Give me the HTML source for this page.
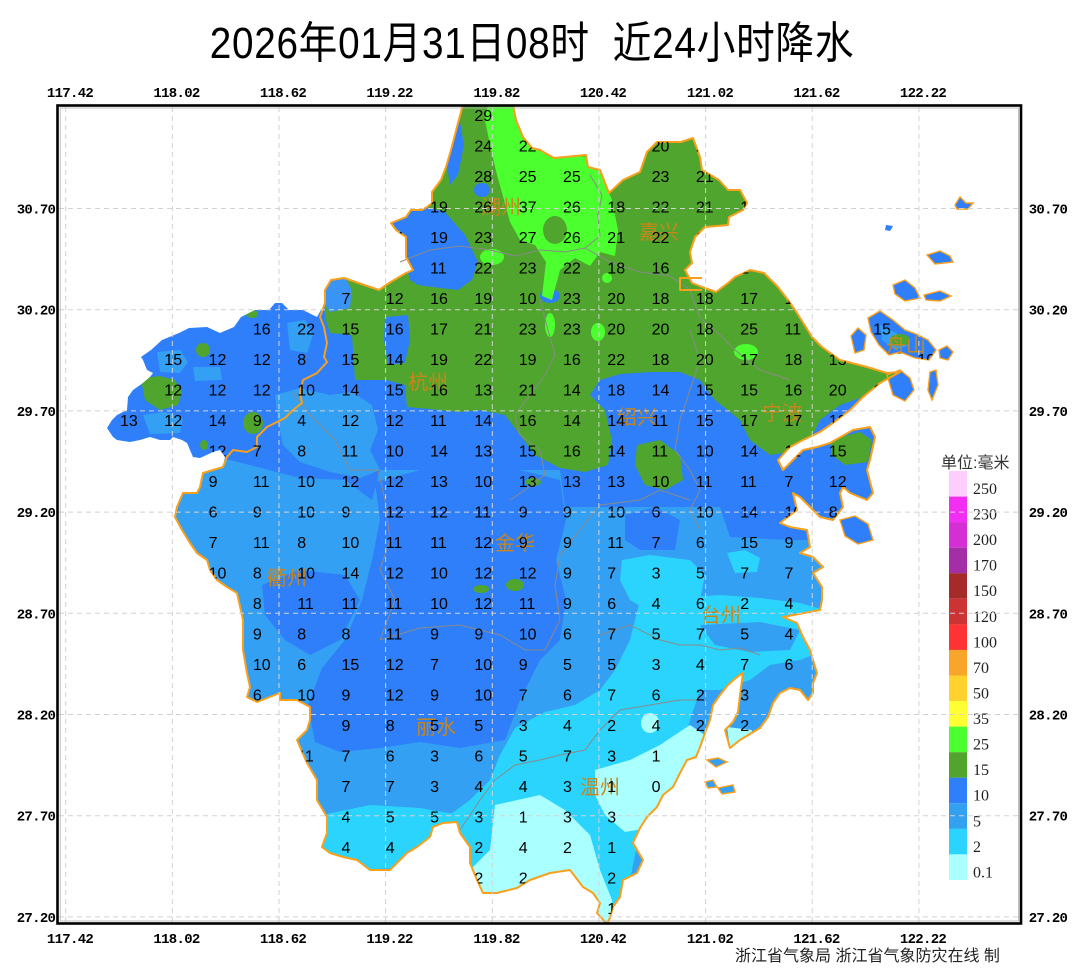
<!DOCTYPE html>
<html><head><meta charset="utf-8"><style>
html,body{margin:0;padding:0;background:#fff;}
svg{display:block;}
.n{font-family:"Liberation Sans",sans-serif;font-size:16px;fill:#000;}
.ax{font-family:"Liberation Mono",monospace;font-size:14px;letter-spacing:-0.7px;fill:#000;font-weight:bold;}
.city{font-family:"Liberation Sans","Noto Sans CJK SC",sans-serif;font-size:20px;fill:#c8861a;}
.lg{font-family:"Liberation Serif",serif;font-size:16px;fill:#222;}
</style></head><body>
<svg width="1080" height="971" viewBox="0 0 1080 971" xmlns="http://www.w3.org/2000/svg">
<defs>
<clipPath id="frame"><rect x="58" y="106" width="963" height="817"/></clipPath>
<clipPath id="land">
<polygon points="325,303 325,290 331,280 344,278 379,290 389,283 406,273 413,270 406,257 406,237 396,230 391,223 406,217 411,210 422,210 427,207 432,203 432,192 441,180 446,167 451,150 458,123 461,112 463,104 513,104 516,120 523,137 532,148 540,150 554,158 586,155 588,167 600,170 609,193 623,180 640,172 647,152 657,142 681,142 693,138 700,157 702,170 719,180 728,190 740,190 747,203 743,210 729,217 728,225 705,227 695,237 690,252 692,263 685,270 692,283 702,287 716,292 728,283 735,277 750,270 764,273 778,287 788,300 797,313 812,337 822,347 840,360 867,367 887,373 900,372 880,383 863,397 850,410 833,423 820,432 803,440 790,447 778,460 783,470 793,460 803,450 817,447 830,443 853,430 870,427 875,437 870,460 867,470 873,493 867,500 850,493 843,487 840,493 843,507 833,520 820,517 810,507 800,497 793,493 797,510 780,523 790,527 807,530 810,547 800,553 813,557 823,567 813,573 822,587 822,600 820,610 783,617 797,623 803,637 810,650 813,660 817,673 813,683 813,693 808,700 800,690 790,688 780,693 773,703 768,717 760,728 750,734 740,740 730,748 725,730 733,722 738,712 740,695 743,673 737,677 728,685 720,695 713,705 710,720 705,733 700,747 696,757 687,760 680,773 673,787 663,795 657,807 647,817 640,828 633,843 643,860 637,873 623,880 620,897 613,907 610,918 607,924 597,913 600,903 593,893 583,887 570,870 550,873 530,880 517,888 497,893 483,893 477,880 470,863 470,847 460,833 457,822 443,823 433,827 430,837 417,847 407,853 390,870 370,870 357,860 343,857 330,853 322,847 327,833 327,817 317,800 317,780 307,763 300,747 297,740 307,730 310,720 310,707 297,700 280,700 280,693 257,702 247,697 250,687 247,673 243,650 243,620 237,593 227,587 217,580 210,570 207,560 197,553 190,543 182,530 175,517 177,507 180,500 183,493 197,493 200,487 203,473 213,470 223,467 227,457 233,450 247,452 257,447 257,437 267,427 285,418 293,410 302,403 300,393 303,380 317,373 327,362 324,357 327,343 324,327 320,317"/>
<polygon points="223,467 225,457 220,450 213,452 200,458 193,457 187,443 182,440 173,437 170,440 160,440 150,437 140,440 130,442 117,440 113,437 107,428 112,420 117,415 127,410 128,397 133,390 143,383 150,377 153,373 147,370 143,360 141,357 151,350 162,340 179,333 189,328 207,327 220,333 234,327 241,317 255,310 269,310 275,303 282,303 289,310 303,310 317,317 325,303 320,317 324,327 327,343 324,357 327,362 317,373 303,380 300,393 302,403 293,410 285,418 267,427 257,437 257,447 247,452 233,450 227,457"/>
<polygon points="893,285 905,280 915,288 920,298 905,301 895,294"/>
<polygon points="927,255 940,251 950,256 953,262 935,264"/>
<polygon points="924,295 940,291 951,296 940,301 926,300"/>
<polygon points="955,205 960,197 966,203 973,203 968,209 957,209"/>
<polygon points="868,318 880,311 893,320 905,330 916,334 928,340 936,350 929,360 915,358 900,352 889,355 879,345 871,332"/>
<polygon points="851,336 858,328 866,335 864,350 855,353"/>
<polygon points="939,350 947,346 953,352 948,360 940,358"/>
<polygon points="887,375 900,370 910,378 914,390 905,401 893,395"/>
<polygon points="930,372 936,370 938,385 932,400 928,390"/>
<polygon points="840,520 855,516 868,524 873,540 858,544 845,536"/>
<polygon points="707,760 718,758 727,762 716,767"/>
<polygon points="705,782 713,780 717,787 708,788"/>
<polygon points="718,788 733,785 735,792 722,794"/>
<polygon points="886,225 893,226 890,231 885,230"/>
</clipPath>
</defs>

<!-- Title -->
<g transform="translate(532,0) scale(0.88,1) translate(-532,0)">
<text x="532" y="58" text-anchor="middle" font-family="Liberation Sans, Noto Sans CJK SC, sans-serif" font-size="44" letter-spacing="0.8" fill="#000">2026年01月31日08时&#160;&#160;近24小时降水</text>
</g>

<g clip-path="url(#frame)">
<g clip-path="url(#land)">
<rect x="0" y="0" width="1080" height="971" fill="#2e7ff9"/>
<!-- medium blue south -->
<polygon fill="#34a0f3" points="160,460 230,460 300,478 345,480 372,500 380,470 560,470 565,507 720,507 730,537 790,540 830,540 840,560 900,560 900,950 100,950 100,460"/>
<!-- dark patches -->
<polygon fill="#2e7ff9" points="375,482 420,470 470,468 520,470 560,480 566,520 556,560 566,600 560,640 540,660 520,700 505,740 460,748 420,742 380,748 340,752 315,742 308,705 322,668 345,640 362,600 372,560 380,520"/>
<polygon fill="#2e7ff9" points="262,585 300,570 345,575 360,600 340,640 310,655 285,640 265,615"/>
<polygon fill="#2e7ff9" points="625,515 655,507 680,520 675,550 640,550 625,540"/>
<!-- medium blue patches -->
<polygon fill="#34a0f3" points="275,395 300,388 330,395 352,392 372,405 378,430 370,450 380,470 360,478 330,472 300,462 283,445 278,420"/>
<polygon fill="#34a0f3" points="287,323 305,320 313,335 307,353 290,350"/>
<polygon fill="#34a0f3" points="157,352 180,350 188,362 180,373 160,372"/>
<polygon fill="#34a0f3" points="193,367 220,367 222,380 195,381"/>
<polygon fill="#34a0f3" points="143,415 165,412 183,418 180,433 150,434"/>
<polygon fill="#34a0f3" points="880,325 900,335 910,345 895,350 882,340"/>
<!-- cyan -->
<polygon fill="#2ad4fc" points="640,600 680,598 720,595 760,598 800,603 825,610 825,650 800,660 770,665 750,680 720,690 700,690 690,720 680,760 660,800 640,830 620,930 480,930 470,860 460,830 440,822 470,800 490,780 500,755 515,728 545,712 575,705 600,690 615,670 630,640"/>
<polygon fill="#2ad4fc" points="622,560 650,555 690,560 705,575 700,600 680,615 650,612 630,600 620,580"/>
<polygon fill="#2ad4fc" points="727,553 745,550 760,558 757,572 735,573"/>
<polygon fill="#2ad4fc" points="322,815 370,805 420,808 460,815 470,840 450,860 400,868 350,870 322,850"/>
<!-- medium patch on cyan -->
<polygon fill="#34a0f3" points="700,625 760,622 800,630 790,650 750,652 715,645"/>
<!-- pale -->
<polygon fill="#aaffff" points="495,805 540,795 565,810 590,835 600,870 612,900 614,930 470,930 470,870 490,850"/>
<polygon fill="#aaffff" points="595,770 630,760 660,745 690,725 705,735 695,760 680,785 662,805 648,828 625,832 605,815 595,795"/>
<polygon fill="#aaffff" points="727,727 752,730 750,745 730,748"/>
<ellipse fill="#aaffff" cx="650" cy="723" rx="9" ry="10"/>
<!-- green -->
<polygon fill="#4fa52e" points="320,100 760,100 850,280 848,350 870,362 895,375 880,388 860,398 840,405 820,420 810,440 790,452 770,455 750,440 740,420 715,400 700,380 680,372 650,372 620,374 600,380 590,395 605,410 612,440 608,465 585,472 560,468 535,455 520,435 505,415 480,410 460,412 440,410 407,407 405,385 387,380 355,380 352,335 330,333 325,318"/>
<polygon fill="#4fa52e" points="637,445 660,440 680,455 683,480 665,490 645,485 635,465"/>
<polygon fill="#4fa52e" points="830,440 860,432 872,440 868,462 845,465 832,455"/>
<polygon fill="#4fa52e" points="143,378 160,376 175,380 182,392 178,405 160,410 145,400 142,385"/>
<ellipse fill="#4fa52e" cx="203" cy="350" rx="7" ry="7"/>
<ellipse fill="#4fa52e" cx="253" cy="423" rx="10" ry="11"/>
<ellipse fill="#4fa52e" cx="252" cy="314" rx="6" ry="4"/>
<ellipse fill="#4fa52e" cx="204" cy="445" rx="4" ry="5"/>
<ellipse fill="#4fa52e" cx="900" cy="340" rx="10" ry="6"/>
<ellipse fill="#4fa52e" cx="533" cy="482" rx="8" ry="4"/>
<ellipse fill="#4fa52e" cx="481" cy="589" rx="8" ry="4"/>
<ellipse fill="#4fa52e" cx="515" cy="585" rx="9" ry="6"/>
<!-- blue over green -->
<polygon fill="#3a94f5" points="320,272 345,278 352,290 350,308 330,312 322,300"/>
<polygon fill="#2e7ff9" points="392,212 420,205 445,212 465,235 478,262 472,280 458,290 440,288 418,285 410,280 405,262 395,240 390,222"/>
<polygon fill="#2e7ff9" points="453,130 460,122 464,145 458,175 450,185 447,165"/>
<polygon fill="#2e7ff9" points="385,317 408,315 410,340 405,363 388,365 384,340"/>
<ellipse fill="#2e7ff9" cx="482" cy="190" rx="8" ry="7"/>
<ellipse fill="#2e7ff9" cx="550" cy="296" rx="10" ry="7"/>
<!-- bright green -->
<polygon fill="#4cff2e" points="488,104 516,104 524,135 545,152 585,157 600,172 612,200 618,230 615,256 600,252 590,266 575,258 560,270 552,300 542,296 546,262 535,245 520,240 510,222 504,200 497,175 490,145 485,120"/>
<ellipse fill="#4fa52e" cx="555" cy="230" rx="12" ry="14"/>
<ellipse fill="#4cff2e" cx="550" cy="325" rx="5" ry="12"/>
<ellipse fill="#4cff2e" cx="598" cy="332" rx="7" ry="9"/>
<ellipse fill="#4cff2e" cx="746" cy="352" rx="12" ry="8"/>
<ellipse fill="#4cff2e" cx="607" cy="278" rx="5" ry="5"/>
<ellipse fill="#4cff2e" cx="492" cy="257" rx="12" ry="8"/>
</g>

<!-- internal gray boundaries -->
<g fill="none" stroke="#8a8a8a" stroke-width="1">
<polyline points="400,262 430,250 460,246 490,250 515,256 540,250 565,252 585,248 600,236 598,215 602,195 590,175"/>
<polyline points="585,248 610,262 640,272 670,276 690,290 700,318 720,335 735,350 760,370 790,380"/>
<polyline points="540,300 548,330 555,355 545,375 530,395 515,415 520,435 540,450 545,475 525,490 510,500"/>
<polyline points="690,330 700,360 690,390 680,420 675,450 690,470 700,490 690,510 700,530"/>
<polyline points="292,392 310,415 335,440 350,470 378,470 385,500 390,540 380,570 395,600 380,640"/>
<polyline points="380,640 420,628 460,625 500,635 525,650 545,650 560,620 555,585 560,555 580,530 600,505 640,500 660,490 690,500"/>
<polyline points="460,830 480,800 495,780 515,765 540,760 560,755 585,750 600,730 620,710 650,705 680,700 705,700"/>
<polyline points="600,635 630,625 660,640 680,645 700,645 720,650 740,648 760,655"/>
</g>

<!-- orange province boundary -->
<g fill="none" stroke="#f8a01c" stroke-width="2" stroke-linejoin="round">
<polygon points="325,303 325,290 331,280 344,278 379,290 389,283 406,273 413,270 406,257 406,237 396,230 391,223 406,217 411,210 422,210 427,207 432,203 432,192 441,180 446,167 451,150 458,123 461,112 463,104 513,104 516,120 523,137 532,148 540,150 554,158 586,155 588,167 600,170 609,193 623,180 640,172 647,152 657,142 681,142 693,138 700,157 702,170 719,180 728,190 740,190 747,203 743,210 729,217 728,225 705,227 695,237 690,252 692,263 685,270 692,283 702,287 716,292 728,283 735,277 750,270 764,273 778,287 788,300 797,313 812,337 822,347 840,360 867,367 887,373 900,372 880,383 863,397 850,410 833,423 820,432 803,440 790,447 778,460 783,470 793,460 803,450 817,447 830,443 853,430 870,427 875,437 870,460 867,470 873,493 867,500 850,493 843,487 840,493 843,507 833,520 820,517 810,507 800,497 793,493 797,510 780,523 790,527 807,530 810,547 800,553 813,557 823,567 813,573 822,587 822,600 820,610 783,617 797,623 803,637 810,650 813,660 817,673 813,683 813,693 808,700 800,690 790,688 780,693 773,703 768,717 760,728 750,734 740,740 730,748 725,730 733,722 738,712 740,695 743,673 737,677 728,685 720,695 713,705 710,720 705,733 700,747 696,757 687,760 680,773 673,787 663,795 657,807 647,817 640,828 633,843 643,860 637,873 623,880 620,897 613,907 610,918 607,924 597,913 600,903 593,893 583,887 570,870 550,873 530,880 517,888 497,893 483,893 477,880 470,863 470,847 460,833 457,822 443,823 433,827 430,837 417,847 407,853 390,870 370,870 357,860 343,857 330,853 322,847 327,833 327,817 317,800 317,780 307,763 300,747 297,740 307,730 310,720 310,707 297,700 280,700 280,693 257,702 247,697 250,687 247,673 243,650 243,620 237,593 227,587 217,580 210,570 207,560 197,553 190,543 182,530 175,517 177,507 180,500 183,493 197,493 200,487 203,473 213,470 223,467 227,457 233,450 247,452 257,447 257,437 267,427 285,418 293,410 302,403 300,393 303,380 317,373 327,362 324,357 327,343 324,327 320,317"/>
<polyline points="702,278 680,278 680,290 702,290"/>
</g>
<g fill="none" stroke="#f8a01c" stroke-width="1.4">
<polygon points="893,285 905,280 915,288 920,298 905,301 895,294"/>
<polygon points="927,255 940,251 950,256 953,262 935,264"/>
<polygon points="924,295 940,291 951,296 940,301 926,300"/>
<polygon points="955,205 960,197 966,203 973,203 968,209 957,209"/>
<polygon points="868,318 880,311 893,320 905,330 916,334 928,340 936,350 929,360 915,358 900,352 889,355 879,345 871,332"/>
<polygon points="851,336 858,328 866,335 864,350 855,353"/>
<polygon points="939,350 947,346 953,352 948,360 940,358"/>
<polygon points="887,375 900,370 910,378 914,390 905,401 893,395"/>
<polygon points="930,372 936,370 938,385 932,400 928,390"/>
<polygon points="840,520 855,516 868,524 873,540 858,544 845,536"/>
<polygon points="707,760 718,758 727,762 716,767"/>
<polygon points="705,782 713,780 717,787 708,788"/>
<polygon points="718,788 733,785 735,792 722,794"/>
</g>

<!-- city labels -->
<g class="city" text-anchor="middle">
<text x="501" y="214">湖州</text>
<text x="659" y="239">嘉兴</text>
<text x="428" y="389">杭州</text>
<text x="637" y="424">绍兴</text>
<text x="782" y="420">宁波</text>
<text x="906" y="352">舟山</text>
<text x="287" y="585">衢州</text>
<text x="515" y="550">金华</text>
<text x="721" y="622">台州</text>
<text x="436" y="734">丽水</text>
<text x="600" y="794">温州</text>
</g>

<!-- station values -->
<g class="n" clip-path="url(#land)">
<text y="120.8"><tspan x="474.4">29</tspan></text>
<text y="151.3"><tspan x="474.4">24</tspan><tspan x="518.7">22</tspan><tspan x="651.6">20</tspan><tspan x="695.9">22</tspan></text>
<text y="181.8"><tspan x="474.4">28</tspan><tspan x="518.7">25</tspan><tspan x="563">25</tspan><tspan x="651.6">23</tspan><tspan x="695.9">21</tspan></text>
<text y="212.3"><tspan x="430.1">19</tspan><tspan x="474.4">26</tspan><tspan x="518.7">37</tspan><tspan x="563">26</tspan><tspan x="607.3">18</tspan><tspan x="651.6">22</tspan><tspan x="695.9">21</tspan><tspan x="740.2">1</tspan></text>
<text y="242.8"><tspan x="385.8">14</tspan><tspan x="430.1">19</tspan><tspan x="474.4">23</tspan><tspan x="518.7">27</tspan><tspan x="563">26</tspan><tspan x="607.3">21</tspan><tspan x="651.6">22</tspan><tspan x="695.9">17</tspan></text>
<text y="273.3"><tspan x="430.1">11</tspan><tspan x="474.4">22</tspan><tspan x="518.7">23</tspan><tspan x="563">22</tspan><tspan x="607.3">18</tspan><tspan x="651.6">16</tspan><tspan x="740.2">2</tspan></text>
<text y="303.8"><tspan x="341.5">7</tspan><tspan x="385.8">12</tspan><tspan x="430.1">16</tspan><tspan x="474.4">19</tspan><tspan x="518.7">10</tspan><tspan x="563">23</tspan><tspan x="607.3">20</tspan><tspan x="651.6">18</tspan><tspan x="695.9">18</tspan><tspan x="740.2">17</tspan><tspan x="784.5">1</tspan></text>
<text y="334.3"><tspan x="252.9">16</tspan><tspan x="297.2">22</tspan><tspan x="341.5">15</tspan><tspan x="385.8">16</tspan><tspan x="430.1">17</tspan><tspan x="474.4">21</tspan><tspan x="518.7">23</tspan><tspan x="563">23</tspan><tspan x="607.3">20</tspan><tspan x="651.6">20</tspan><tspan x="695.9">18</tspan><tspan x="740.2">25</tspan><tspan x="784.5">11</tspan><tspan x="873.1">15</tspan></text>
<text y="364.8"><tspan x="164.3">15</tspan><tspan x="208.6">12</tspan><tspan x="252.9">12</tspan><tspan x="297.2">8</tspan><tspan x="341.5">15</tspan><tspan x="385.8">14</tspan><tspan x="430.1">19</tspan><tspan x="474.4">22</tspan><tspan x="518.7">19</tspan><tspan x="563">16</tspan><tspan x="607.3">22</tspan><tspan x="651.6">18</tspan><tspan x="695.9">20</tspan><tspan x="740.2">17</tspan><tspan x="784.5">18</tspan><tspan x="828.8">13</tspan><tspan x="917.4">10</tspan></text>
<text y="395.3"><tspan x="120">8</tspan><tspan x="164.3">12</tspan><tspan x="208.6">12</tspan><tspan x="252.9">12</tspan><tspan x="297.2">10</tspan><tspan x="341.5">14</tspan><tspan x="385.8">15</tspan><tspan x="430.1">16</tspan><tspan x="474.4">13</tspan><tspan x="518.7">21</tspan><tspan x="563">14</tspan><tspan x="607.3">18</tspan><tspan x="651.6">14</tspan><tspan x="695.9">15</tspan><tspan x="740.2">15</tspan><tspan x="784.5">16</tspan><tspan x="828.8">20</tspan><tspan x="873.1">1</tspan></text>
<text y="425.8"><tspan x="120">13</tspan><tspan x="164.3">12</tspan><tspan x="208.6">14</tspan><tspan x="252.9">9</tspan><tspan x="297.2">4</tspan><tspan x="341.5">12</tspan><tspan x="385.8">12</tspan><tspan x="430.1">11</tspan><tspan x="474.4">14</tspan><tspan x="518.7">16</tspan><tspan x="563">14</tspan><tspan x="607.3">14</tspan><tspan x="651.6">11</tspan><tspan x="695.9">15</tspan><tspan x="740.2">17</tspan><tspan x="784.5">17</tspan><tspan x="828.8">13</tspan></text>
<text y="456.3"><tspan x="208.6">12</tspan><tspan x="252.9">7</tspan><tspan x="297.2">8</tspan><tspan x="341.5">11</tspan><tspan x="385.8">10</tspan><tspan x="430.1">14</tspan><tspan x="474.4">13</tspan><tspan x="518.7">15</tspan><tspan x="563">16</tspan><tspan x="607.3">14</tspan><tspan x="651.6">11</tspan><tspan x="695.9">10</tspan><tspan x="740.2">14</tspan><tspan x="784.5">11</tspan><tspan x="828.8">15</tspan></text>
<text y="486.8"><tspan x="208.6">9</tspan><tspan x="252.9">11</tspan><tspan x="297.2">10</tspan><tspan x="341.5">12</tspan><tspan x="385.8">12</tspan><tspan x="430.1">13</tspan><tspan x="474.4">10</tspan><tspan x="518.7">13</tspan><tspan x="563">13</tspan><tspan x="607.3">13</tspan><tspan x="651.6">10</tspan><tspan x="695.9">11</tspan><tspan x="740.2">11</tspan><tspan x="784.5">7</tspan><tspan x="828.8">12</tspan></text>
<text y="517.3"><tspan x="208.6">6</tspan><tspan x="252.9">9</tspan><tspan x="297.2">10</tspan><tspan x="341.5">9</tspan><tspan x="385.8">12</tspan><tspan x="430.1">12</tspan><tspan x="474.4">11</tspan><tspan x="518.7">9</tspan><tspan x="563">9</tspan><tspan x="607.3">10</tspan><tspan x="651.6">6</tspan><tspan x="695.9">10</tspan><tspan x="740.2">14</tspan><tspan x="784.5">10</tspan><tspan x="828.8">8</tspan></text>
<text y="547.8"><tspan x="208.6">7</tspan><tspan x="252.9">11</tspan><tspan x="297.2">8</tspan><tspan x="341.5">10</tspan><tspan x="385.8">11</tspan><tspan x="430.1">11</tspan><tspan x="474.4">12</tspan><tspan x="518.7">9</tspan><tspan x="563">9</tspan><tspan x="607.3">11</tspan><tspan x="651.6">7</tspan><tspan x="695.9">6</tspan><tspan x="740.2">15</tspan><tspan x="784.5">9</tspan></text>
<text y="578.3"><tspan x="208.6">10</tspan><tspan x="252.9">8</tspan><tspan x="297.2">10</tspan><tspan x="341.5">14</tspan><tspan x="385.8">12</tspan><tspan x="430.1">10</tspan><tspan x="474.4">12</tspan><tspan x="518.7">12</tspan><tspan x="563">9</tspan><tspan x="607.3">7</tspan><tspan x="651.6">3</tspan><tspan x="695.9">5</tspan><tspan x="740.2">7</tspan><tspan x="784.5">7</tspan></text>
<text y="608.8"><tspan x="252.9">8</tspan><tspan x="297.2">11</tspan><tspan x="341.5">11</tspan><tspan x="385.8">11</tspan><tspan x="430.1">10</tspan><tspan x="474.4">12</tspan><tspan x="518.7">11</tspan><tspan x="563">9</tspan><tspan x="607.3">6</tspan><tspan x="651.6">4</tspan><tspan x="695.9">6</tspan><tspan x="740.2">2</tspan><tspan x="784.5">4</tspan></text>
<text y="639.3"><tspan x="252.9">9</tspan><tspan x="297.2">8</tspan><tspan x="341.5">8</tspan><tspan x="385.8">11</tspan><tspan x="430.1">9</tspan><tspan x="474.4">9</tspan><tspan x="518.7">10</tspan><tspan x="563">6</tspan><tspan x="607.3">7</tspan><tspan x="651.6">5</tspan><tspan x="695.9">7</tspan><tspan x="740.2">5</tspan><tspan x="784.5">4</tspan></text>
<text y="669.8"><tspan x="252.9">10</tspan><tspan x="297.2">6</tspan><tspan x="341.5">15</tspan><tspan x="385.8">12</tspan><tspan x="430.1">7</tspan><tspan x="474.4">10</tspan><tspan x="518.7">9</tspan><tspan x="563">5</tspan><tspan x="607.3">5</tspan><tspan x="651.6">3</tspan><tspan x="695.9">4</tspan><tspan x="740.2">7</tspan><tspan x="784.5">6</tspan></text>
<text y="700.3"><tspan x="252.9">6</tspan><tspan x="297.2">10</tspan><tspan x="341.5">9</tspan><tspan x="385.8">12</tspan><tspan x="430.1">9</tspan><tspan x="474.4">10</tspan><tspan x="518.7">7</tspan><tspan x="563">6</tspan><tspan x="607.3">7</tspan><tspan x="651.6">6</tspan><tspan x="695.9">2</tspan><tspan x="740.2">3</tspan></text>
<text y="730.8"><tspan x="341.5">9</tspan><tspan x="385.8">8</tspan><tspan x="430.1">5</tspan><tspan x="474.4">5</tspan><tspan x="518.7">3</tspan><tspan x="563">4</tspan><tspan x="607.3">2</tspan><tspan x="651.6">4</tspan><tspan x="695.9">2</tspan><tspan x="740.2">2</tspan></text>
<text y="761.3"><tspan x="297.2">11</tspan><tspan x="341.5">7</tspan><tspan x="385.8">6</tspan><tspan x="430.1">3</tspan><tspan x="474.4">6</tspan><tspan x="518.7">5</tspan><tspan x="563">7</tspan><tspan x="607.3">3</tspan><tspan x="651.6">1</tspan></text>
<text y="791.8"><tspan x="341.5">7</tspan><tspan x="385.8">7</tspan><tspan x="430.1">3</tspan><tspan x="474.4">4</tspan><tspan x="518.7">4</tspan><tspan x="563">3</tspan><tspan x="607.3">1</tspan><tspan x="651.6">0</tspan></text>
<text y="822.3"><tspan x="341.5">4</tspan><tspan x="385.8">5</tspan><tspan x="430.1">5</tspan><tspan x="474.4">3</tspan><tspan x="518.7">1</tspan><tspan x="563">3</tspan><tspan x="607.3">3</tspan></text>
<text y="852.8"><tspan x="341.5">4</tspan><tspan x="385.8">4</tspan><tspan x="430.1">1</tspan><tspan x="474.4">2</tspan><tspan x="518.7">4</tspan><tspan x="563">2</tspan><tspan x="607.3">1</tspan></text>
<text y="883.3"><tspan x="474.4">2</tspan><tspan x="518.7">2</tspan><tspan x="607.3">2</tspan></text>
<text y="913.8"><tspan x="607.3">1</tspan></text>
</g>
</g>

<!-- legend -->
<text x="941" y="468" font-family="Liberation Sans, Noto Sans CJK SC, sans-serif" font-size="16" fill="#333">单位:毫米</text>
<g>
<rect x="949" y="471" width="18" height="25.6" fill="#fdcdfd"/>
<rect x="949" y="496.6" width="18" height="25.6" fill="#f22ef2"/>
<rect x="949" y="522.1" width="18" height="25.6" fill="#d42ed4"/>
<rect x="949" y="547.7" width="18" height="25.6" fill="#a42ea6"/>
<rect x="949" y="573.2" width="18" height="25.6" fill="#a52b2b"/>
<rect x="949" y="598.8" width="18" height="25.6" fill="#cc3333"/>
<rect x="949" y="624.4" width="18" height="25.6" fill="#ff3333"/>
<rect x="949" y="649.9" width="18" height="25.6" fill="#f8a52b"/>
<rect x="949" y="675.5" width="18" height="25.6" fill="#ffd22e"/>
<rect x="949" y="701" width="18" height="25.6" fill="#ffff33"/>
<rect x="949" y="726.6" width="18" height="25.6" fill="#4cff2e"/>
<rect x="949" y="752.2" width="18" height="25.6" fill="#51a52c"/>
<rect x="949" y="777.7" width="18" height="25.6" fill="#2e7ff9"/>
<rect x="949" y="803.3" width="18" height="25.6" fill="#33a0f0"/>
<rect x="949" y="828.8" width="18" height="25.6" fill="#2ad4ff"/>
<rect x="949" y="854.4" width="18" height="25.6" fill="#aaffff"/>
</g>
<g class="lg">
<text x="973" y="494">250</text>
<text x="973" y="519.6">230</text>
<text x="973" y="545.1">200</text>
<text x="973" y="570.7">170</text>
<text x="973" y="596.2">150</text>
<text x="973" y="621.8">120</text>
<text x="973" y="647.4">100</text>
<text x="973" y="672.9">70</text>
<text x="973" y="698.5">50</text>
<text x="973" y="724">35</text>
<text x="973" y="749.6">25</text>
<text x="973" y="775.2">15</text>
<text x="973" y="800.7">10</text>
<text x="973" y="826.3">5</text>
<text x="973" y="851.8">2</text>
<text x="973" y="877.4">0.1</text>
</g>

<!-- grid -->
<g stroke="#d2d2d2" stroke-width="1" stroke-dasharray="5,4" fill="none">
<line x1="65.7" y1="107" x2="65.7" y2="922"/>
<line x1="172.3" y1="107" x2="172.3" y2="922"/>
<line x1="279" y1="107" x2="279" y2="922"/>
<line x1="385.6" y1="107" x2="385.6" y2="922"/>
<line x1="492.3" y1="107" x2="492.3" y2="922"/>
<line x1="598.9" y1="107" x2="598.9" y2="922"/>
<line x1="705.6" y1="107" x2="705.6" y2="922"/>
<line x1="812.2" y1="107" x2="812.2" y2="922"/>
<line x1="918.9" y1="107" x2="918.9" y2="922"/>
<line x1="59" y1="208.5" x2="1020" y2="208.5"/>
<line x1="59" y1="309.7" x2="1020" y2="309.7"/>
<line x1="59" y1="410.9" x2="1020" y2="410.9"/>
<line x1="59" y1="512.1" x2="1020" y2="512.1"/>
<line x1="59" y1="613.3" x2="1020" y2="613.3"/>
<line x1="59" y1="714.5" x2="1020" y2="714.5"/>
<line x1="59" y1="815.7" x2="1020" y2="815.7"/>
<line x1="59" y1="916.9" x2="1020" y2="916.9"/>
</g>

<!-- frame -->
<rect x="60.2" y="108" width="958.3" height="813" fill="none" stroke="#b0b0b0" stroke-width="0.8"/>
<rect x="57.5" y="105.5" width="963.5" height="818" fill="none" stroke="#000" stroke-width="2.6"/>

<!-- axis labels -->
<g class="ax" text-anchor="middle">
<text x="70" y="97">117.42</text>
<text x="176.5" y="97">118.02</text>
<text x="283" y="97">118.62</text>
<text x="389.5" y="97">119.22</text>
<text x="496.5" y="97">119.82</text>
<text x="603" y="97">120.42</text>
<text x="710" y="97">121.02</text>
<text x="816.5" y="97">121.62</text>
<text x="923" y="97">122.22</text>
<text x="70" y="943">117.42</text>
<text x="176.5" y="943">118.02</text>
<text x="283" y="943">118.62</text>
<text x="389.5" y="943">119.22</text>
<text x="496.5" y="943">119.82</text>
<text x="603" y="943">120.42</text>
<text x="710" y="943">121.02</text>
<text x="816.5" y="943">121.62</text>
<text x="923" y="943">122.22</text>
<text x="36" y="213.5">30.70</text>
<text x="36" y="314.7">30.20</text>
<text x="36" y="415.9">29.70</text>
<text x="36" y="517.1">29.20</text>
<text x="36" y="618.3">28.70</text>
<text x="36" y="719.5">28.20</text>
<text x="36" y="820.7">27.70</text>
<text x="36" y="921.9">27.20</text>
<text x="1048" y="213.5">30.70</text>
<text x="1048" y="314.7">30.20</text>
<text x="1048" y="415.9">29.70</text>
<text x="1048" y="517.1">29.20</text>
<text x="1048" y="618.3">28.70</text>
<text x="1048" y="719.5">28.20</text>
<text x="1048" y="820.7">27.70</text>
<text x="1048" y="921.9">27.20</text>
</g>

<!-- footer -->
<text x="735" y="961" font-family="Liberation Sans, Noto Sans CJK SC, sans-serif" font-size="16" fill="#222">浙江省气象局 浙江省气象防灾在线 制</text>
</svg>
</body></html>
